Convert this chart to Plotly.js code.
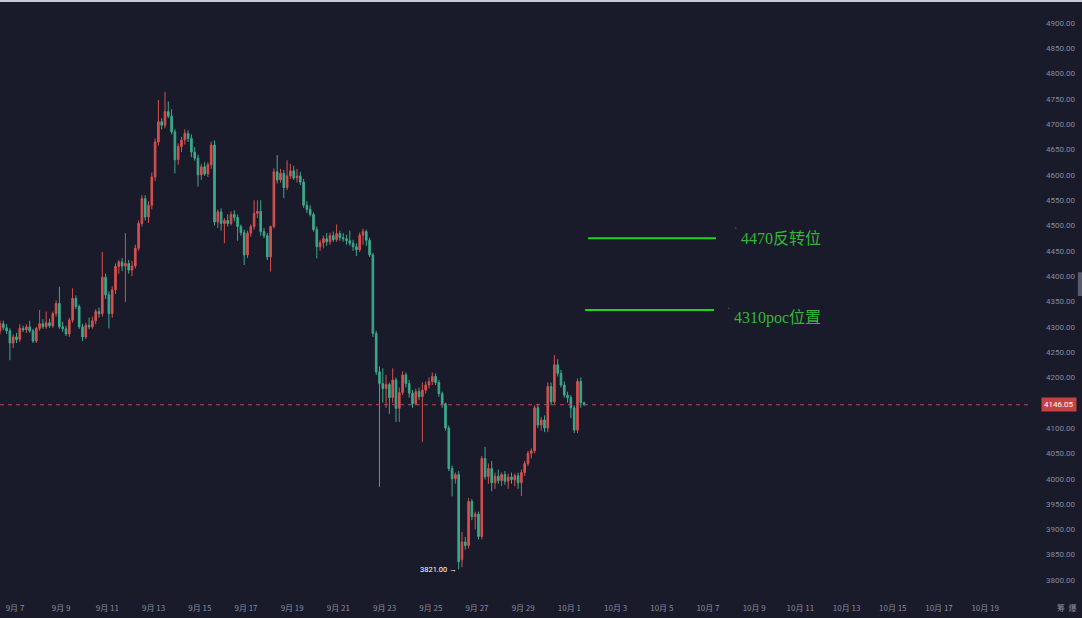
<!DOCTYPE html>
<html>
<head>
<meta charset="utf-8">
<script src="https://cdn.plot.ly/plotly-3.0.1.min.js"></script>
<style>
html,body{margin:0;padding:0;background:#1a1b2a;overflow:hidden;}
#chart{width:1082px;height:618px;}
#topbar{position:absolute;left:0;top:0;width:1082px;height:2px;background:#c8cbdc;z-index:5;}
</style>
</head>
<body>
<div id="topbar"></div>
<div id="chart"></div>
<script>
// ---- data ----
const openP  = [4292,4306,4298,4292,4268,4280,4275,4297,4294,4300,4292,4272,4297,4306,4300,4308,4302,4326,4346,4300,4296,4286,4313,4356,4340,4300,4280,4303,4300,4312,4330,4326,4398,4363,4326,4373,4419,4428,4420,4425,4412,4420,4455,4504,4553,4517,4540,4596,4665,4705,4698,4725,4716,4685,4630,4656,4669,4682,4672,4645,4633,4600,4616,4602,4620,4659,4507,4527,4504,4510,4504,4522,4516,4498,4486,4442,4485,4498,4524,4528,4488,4480,4438,4498,4606,4590,4603,4575,4598,4608,4594,4598,4586,4540,4532,4522,4492,4458,4466,4474,4468,4480,4472,4484,4476,4474,4470,4465,4458,4452,4481,4488,4471,4442,4287,4211,4188,4178,4186,4160,4195,4139,4170,4205,4188,4169,4148,4172,4162,4175,4185,4192,4202,4190,4168,4148,4100,4020,4000,4008,3840,3875,3868,3955,3925,3930,3886,4040,4004,4020,3992,4005,3996,4008,3995,4003,3998,4006,3992,4012,4030,4050,4055,4140,4106,4116,4100,4182,4152,4225,4208,4185,4165,4160,4140,4096,4192,4150];
const highP  = [4312,4312,4305,4297,4285,4288,4305,4302,4305,4312,4296,4300,4333,4315,4330,4316,4330,4352,4379,4310,4302,4318,4376,4362,4344,4306,4308,4318,4320,4335,4338,4448,4405,4370,4380,4425,4432,4436,4485,4432,4430,4462,4510,4560,4560,4548,4605,4672,4748,4712,4764,4745,4730,4690,4662,4675,4690,4688,4680,4655,4640,4622,4625,4625,4666,4668,4532,4534,4515,4522,4528,4530,4522,4502,4492,4490,4502,4550,4550,4550,4495,4485,4500,4613,4639,4612,4610,4629,4622,4618,4612,4606,4592,4548,4540,4526,4498,4472,4480,4485,4486,4488,4502,4490,4485,4482,4490,4472,4465,4486,4494,4492,4476,4446,4292,4222,4218,4205,4190,4218,4200,4180,4212,4210,4195,4175,4178,4180,4190,4192,4200,4210,4208,4195,4172,4150,4105,4026,4012,4015,3895,3885,3962,3960,3935,3935,4045,4063,4030,4035,4012,4018,4012,4015,4010,4012,4010,4012,4018,4035,4055,4060,4145,4148,4122,4125,4190,4190,4244,4236,4215,4192,4172,4165,4145,4198,4200,4152];
const lowP   = [4285,4293,4286,4234,4258,4268,4270,4290,4288,4288,4268,4268,4292,4296,4296,4298,4298,4320,4296,4290,4282,4280,4308,4335,4296,4272,4276,4295,4296,4305,4318,4320,4355,4297,4318,4365,4405,4410,4349,4405,4400,4415,4450,4498,4510,4505,4532,4588,4658,4690,4692,4712,4680,4603,4620,4645,4660,4665,4635,4628,4577,4590,4598,4596,4612,4500,4495,4490,4465,4498,4500,4508,4470,4480,4422,4436,4478,4492,4515,4480,4475,4432,4409,4494,4583,4585,4554,4570,4592,4590,4585,4580,4535,4525,4518,4488,4435,4450,4455,4460,4462,4468,4468,4470,4468,4462,4460,4450,4440,4448,4462,4460,4438,4280,4205,3984,4150,4140,4128,4150,4112,4112,4165,4180,4160,4140,4145,4155,4073,4168,4178,4185,4185,4162,4140,4095,4015,3965,3990,3821,3825,3860,3862,3918,3900,3880,3880,3998,3990,3975,3980,3990,3985,3988,3980,3990,3985,3980,3966,4005,4025,4040,4050,4100,4095,4092,4092,4145,4148,4202,4180,4160,4150,4120,4090,4090,4140,4144];
const closeP = [4306,4298,4292,4268,4280,4275,4297,4294,4300,4292,4272,4297,4306,4300,4308,4302,4326,4346,4300,4296,4286,4313,4356,4340,4300,4280,4303,4300,4312,4330,4326,4398,4363,4326,4373,4419,4428,4420,4425,4412,4420,4455,4504,4553,4517,4540,4596,4665,4705,4698,4725,4716,4685,4630,4656,4669,4682,4672,4645,4633,4600,4616,4602,4620,4659,4507,4527,4504,4510,4504,4522,4516,4498,4486,4442,4485,4498,4524,4528,4488,4480,4438,4498,4606,4590,4603,4575,4598,4608,4594,4598,4586,4540,4532,4522,4492,4458,4466,4474,4468,4480,4472,4484,4476,4474,4470,4465,4458,4452,4481,4488,4471,4442,4287,4211,4188,4178,4186,4160,4195,4139,4170,4205,4188,4169,4148,4172,4162,4175,4185,4192,4202,4190,4168,4148,4100,4020,4000,4008,3836,3875,3868,3955,3925,3930,3886,4040,4004,4020,3992,4005,3996,4008,3995,4003,3998,4006,3992,4012,4030,4050,4055,4140,4106,4116,4100,4182,4152,4225,4208,4185,4165,4160,4140,4096,4192,4150,4146.05];

const lastPrice = 4146.05;
const lowLabel = 3821.00;
const tickDates = ['2025-09-07','2025-09-09','2025-09-11','2025-09-13','2025-09-15','2025-09-17','2025-09-19','2025-09-21','2025-09-23','2025-09-25','2025-09-27','2025-09-29','2025-10-01','2025-10-03','2025-10-05','2025-10-07','2025-10-09','2025-10-11','2025-10-13','2025-10-15','2025-10-17','2025-10-19'];
const tickLabels = ['9月 7','9月 9','9月 11','9月 13','9月 15','9月 17','9月 19','9月 21','9月 23','9月 25','9月 27','9月 29','10月 1','10月 3','10月 5','10月 7','10月 9','10月 11','10月 13','10月 15','10月 17','10月 19'];
const levelPrices = [4475, 4333];
const levelStart = ['2025-10-01 19:27','2025-10-01 16:19'];
const levelEnd   = ['2025-10-07 08:20','2025-10-07 06:14'];
const levelText  = ['4470反转位','4310poc位置'];
const levelTextAt = ['2025-10-08 08:00','2025-10-08 01:00'];

// ---- candle times: 7 bars per day ----
const DAY = 86400000;
const startMs = Date.UTC(2025,8,7) - 0.6494*DAY;
const barMs = DAY/7;
const times = closeP.map((_,i)=> new Date(startMs + i*barMs).toISOString().replace('T',' ').slice(0,19));

let lowIdx = 0;
lowP.forEach((v,i)=>{ if(v < lowP[lowIdx]) lowIdx = i; });

const RED = '#d4504e', GRN = '#3aa98b';
const trace = {
  type:'candlestick', x:times, open:openP, high:highP, low:lowP, close:closeP,
  increasing:{line:{color:RED,width:1}, fillcolor:RED},
  decreasing:{line:{color:GRN,width:1}, fillcolor:GRN},
  whiskerwidth:0, hoverinfo:'skip', showlegend:false
};

const xr0 = new Date(startMs).toISOString();
const xr1 = new Date(Date.UTC(2025,8,7) + 43.94*DAY).toISOString();

const shapes = [
  {type:'line', xref:'paper', x0:0, x1:1, yref:'y', y0:lastPrice, y1:lastPrice,
   line:{color:'#b84a4c', width:1, dash:'4px,4px'}},
  {type:'rect', xref:'paper', yref:'paper', x0:1.0465, x1:1.0505, y0:0.505, y1:0.545,
   fillcolor:'#555a6e', line:{width:0}}
];
levelPrices.forEach((p,i)=>{
  shapes.push({type:'line', xref:'x', yref:'y', x0:levelStart[i], x1:levelEnd[i], y0:p, y1:p,
    line:{color:'#1fd41f', width:2}});
});

const annotations = [
  {xref:'paper', x:1, xanchor:'left', xshift:11, y:lastPrice, yref:'y', text:lastPrice.toFixed(2),
   showarrow:false, bgcolor:'#c84142', font:{color:'#ffffff', size:8, family:'Roboto, Noto Sans'},
   borderpad:2},
  {x:times[lowIdx], y:lowP[lowIdx], xref:'x', yref:'y', xanchor:'right', yanchor:'middle', xshift:0,
   text:lowLabel.toFixed(2)+' →', showarrow:false, font:{color:'#ffffff', size:7.5, family:'Roboto, Noto Sans'}},
  {xref:'paper', yref:'paper', x:1.048, y:-11/594, yanchor:'middle', xanchor:'right', text:'筹  爆', showarrow:false,
   font:{color:'#8a8ea3', size:8, family:'Noto Sans CJK SC'}}
];
levelPrices.forEach((p,i)=>{
  annotations.push({x:levelTextAt[i], y:p, xref:'x', yref:'y', xanchor:'left', yanchor:'middle',
    yshift: (i===0?0:-8), text:levelText[i], showarrow:false,
    font:{color:'#36b636', size:16, family:'Liberation Serif, Noto Sans CJK SC'}});
  annotations.push({x:levelTextAt[i], y:p, xref:'x', yref:'y', xanchor:'right', yanchor:'middle',
    yshift:(i===0?6:-2), xshift:(i===0?1:1), text:'ˋ', showarrow:false,
    font:{color:'#36b636', size:8, family:'DejaVu Sans'}});
});

const layout = {
  width:1082, height:618,
  margin:{l:0, r:52, t:2, b:22},
  paper_bgcolor:'#1a1b2a', plot_bgcolor:'#1a1b2a',
  showlegend:false,
  xaxis:{type:'date', range:[xr0, xr1], rangeslider:{visible:false},
    tickvals:tickDates, ticktext:tickLabels, showgrid:false, zeroline:false,
    showline:false, ticks:'', ticklabelstandoff:6, tickfont:{color:'#858a9e', size:8, family:'Noto Sans CJK SC'}},
  yaxis:{side:'right', range:[3768.3, 4941.5], dtick:50, tick0:3800, tickformat:'.2f',
    showgrid:false, zeroline:false, showline:false, ticks:'', ticklabelstandoff:15,
    tickfont:{color:'#858a9e', size:8, family:'Roboto, Noto Sans'}},
  shapes:shapes, annotations:annotations
};

Plotly.newPlot('chart', [trace], layout, {staticPlot:true, displayModeBar:false});
</script>
</body>
</html>
